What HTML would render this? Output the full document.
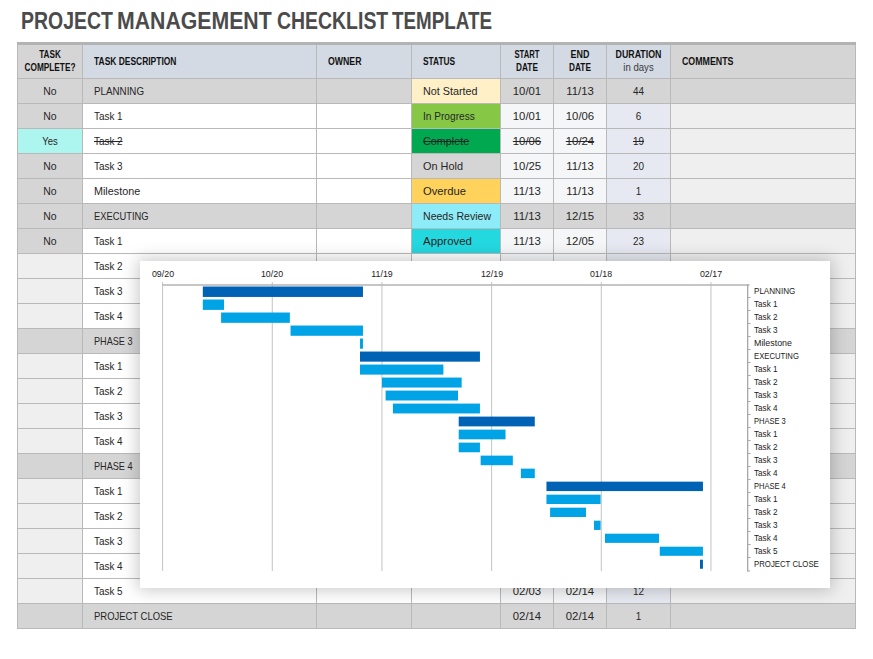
<!DOCTYPE html>
<html><head><meta charset="utf-8"><style>
html,body{margin:0;padding:0;background:#fff;}
body{width:873px;height:659px;overflow:hidden;position:relative;font-family:"Liberation Sans",sans-serif;color:#262626;}
.a{position:absolute;}
.c{position:absolute;height:24px;}
.t{position:absolute;white-space:nowrap;font-size:11px;line-height:12px;transform:scaleX(0.87);transform-origin:0 0;}
.tc{transform-origin:50% 0;}
.h{position:absolute;white-space:nowrap;font-size:10.2px;line-height:12px;font-weight:bold;color:#111;transform:scaleX(0.91);transform-origin:0 0;}
.hc{transform-origin:50% 0;}
.s{text-decoration:line-through;}
.ln{position:absolute;background:#b9b9b9;}
.g{position:absolute;background:#c4c4c4;}
.bd{position:absolute;background:#0062b4;height:9.8px;}
.bl{position:absolute;background:#00a3e6;height:9.8px;}
.lb{position:absolute;white-space:nowrap;font-size:8.8px;line-height:10px;color:#222;transform:scaleX(0.92);transform-origin:0 0;}
.dl{position:absolute;white-space:nowrap;font-size:9.2px;line-height:10px;color:#222;width:40px;text-align:center;}
</style></head><body>

<div class="a" style="left:21.2px;top:6.7px;font-size:23px;line-height:28px;font-weight:bold;color:#4b4b4b;white-space:nowrap;transform-origin:0 0;transform:scaleX(0.846);">PROJECT</div>
<div class="a" style="left:117.2px;top:6.7px;font-size:23px;line-height:28px;font-weight:bold;color:#4b4b4b;white-space:nowrap;transform-origin:0 0;transform:scaleX(0.924);">MANAGEMENT</div>
<div class="a" style="left:276.5px;top:6.7px;font-size:23px;line-height:28px;font-weight:bold;color:#4b4b4b;white-space:nowrap;transform-origin:0 0;transform:scaleX(0.845);">CHECKLIST</div>
<div class="a" style="left:391.8px;top:6.7px;font-size:23px;line-height:28px;font-weight:bold;color:#4b4b4b;white-space:nowrap;transform-origin:0 0;transform:scaleX(0.818);">TEMPLATE</div>
<div class="a" style="left:18px;top:45px;width:64px;height:33px;background:#d5d5d5"></div>
<div class="a" style="left:83px;top:45px;width:233px;height:33px;background:#d3dae4"></div>
<div class="a" style="left:317px;top:45px;width:94px;height:33px;background:#d3dae4"></div>
<div class="a" style="left:412px;top:45px;width:88px;height:33px;background:#d3dae4"></div>
<div class="a" style="left:501px;top:45px;width:52px;height:33px;background:#d3dae4"></div>
<div class="a" style="left:554px;top:45px;width:52px;height:33px;background:#d3dae4"></div>
<div class="a" style="left:607px;top:45px;width:63px;height:33px;background:#d3dae4"></div>
<div class="a" style="left:671px;top:45px;width:184px;height:33px;background:#d5d5d5"></div>
<div class="c" style="left:18px;top:79px;width:64px;background:#d5d5d5"></div>
<div class="c" style="left:83px;top:79px;width:233px;background:#d5d5d5"></div>
<div class="c" style="left:317px;top:79px;width:94px;background:#d5d5d5"></div>
<div class="c" style="left:412px;top:79px;width:88px;background:#fff0c8"></div>
<div class="c" style="left:501px;top:79px;width:52px;background:#d5d5d5"></div>
<div class="c" style="left:554px;top:79px;width:52px;background:#d5d5d5"></div>
<div class="c" style="left:607px;top:79px;width:63px;background:#d5d5d5"></div>
<div class="c" style="left:671px;top:79px;width:184px;background:#d5d5d5"></div>
<div class="c" style="left:18px;top:104px;width:64px;background:#d5d5d5"></div>
<div class="c" style="left:83px;top:104px;width:233px;background:#ffffff"></div>
<div class="c" style="left:317px;top:104px;width:94px;background:#ffffff"></div>
<div class="c" style="left:412px;top:104px;width:88px;background:#86c846"></div>
<div class="c" style="left:501px;top:104px;width:52px;background:#f5f6f8"></div>
<div class="c" style="left:554px;top:104px;width:52px;background:#f5f6f8"></div>
<div class="c" style="left:607px;top:104px;width:63px;background:#e6e9f1"></div>
<div class="c" style="left:671px;top:104px;width:184px;background:#efefef"></div>
<div class="c" style="left:18px;top:129px;width:64px;background:#adf5ef"></div>
<div class="c" style="left:83px;top:129px;width:233px;background:#ffffff"></div>
<div class="c" style="left:317px;top:129px;width:94px;background:#ffffff"></div>
<div class="c" style="left:412px;top:129px;width:88px;background:#00a84f"></div>
<div class="c" style="left:501px;top:129px;width:52px;background:#f5f6f8"></div>
<div class="c" style="left:554px;top:129px;width:52px;background:#f5f6f8"></div>
<div class="c" style="left:607px;top:129px;width:63px;background:#e6e9f1"></div>
<div class="c" style="left:671px;top:129px;width:184px;background:#efefef"></div>
<div class="c" style="left:18px;top:154px;width:64px;background:#d5d5d5"></div>
<div class="c" style="left:83px;top:154px;width:233px;background:#ffffff"></div>
<div class="c" style="left:317px;top:154px;width:94px;background:#ffffff"></div>
<div class="c" style="left:412px;top:154px;width:88px;background:#d5d5d5"></div>
<div class="c" style="left:501px;top:154px;width:52px;background:#f5f6f8"></div>
<div class="c" style="left:554px;top:154px;width:52px;background:#f5f6f8"></div>
<div class="c" style="left:607px;top:154px;width:63px;background:#e6e9f1"></div>
<div class="c" style="left:671px;top:154px;width:184px;background:#efefef"></div>
<div class="c" style="left:18px;top:179px;width:64px;background:#d5d5d5"></div>
<div class="c" style="left:83px;top:179px;width:233px;background:#ffffff"></div>
<div class="c" style="left:317px;top:179px;width:94px;background:#ffffff"></div>
<div class="c" style="left:412px;top:179px;width:88px;background:#ffd25c"></div>
<div class="c" style="left:501px;top:179px;width:52px;background:#f5f6f8"></div>
<div class="c" style="left:554px;top:179px;width:52px;background:#f5f6f8"></div>
<div class="c" style="left:607px;top:179px;width:63px;background:#e6e9f1"></div>
<div class="c" style="left:671px;top:179px;width:184px;background:#efefef"></div>
<div class="c" style="left:18px;top:204px;width:64px;background:#d5d5d5"></div>
<div class="c" style="left:83px;top:204px;width:233px;background:#d5d5d5"></div>
<div class="c" style="left:317px;top:204px;width:94px;background:#d5d5d5"></div>
<div class="c" style="left:412px;top:204px;width:88px;background:#8eecf8"></div>
<div class="c" style="left:501px;top:204px;width:52px;background:#d5d5d5"></div>
<div class="c" style="left:554px;top:204px;width:52px;background:#d5d5d5"></div>
<div class="c" style="left:607px;top:204px;width:63px;background:#d5d5d5"></div>
<div class="c" style="left:671px;top:204px;width:184px;background:#d5d5d5"></div>
<div class="c" style="left:18px;top:229px;width:64px;background:#d5d5d5"></div>
<div class="c" style="left:83px;top:229px;width:233px;background:#ffffff"></div>
<div class="c" style="left:317px;top:229px;width:94px;background:#ffffff"></div>
<div class="c" style="left:412px;top:229px;width:88px;background:#24d8e0"></div>
<div class="c" style="left:501px;top:229px;width:52px;background:#f5f6f8"></div>
<div class="c" style="left:554px;top:229px;width:52px;background:#f5f6f8"></div>
<div class="c" style="left:607px;top:229px;width:63px;background:#e6e9f1"></div>
<div class="c" style="left:671px;top:229px;width:184px;background:#efefef"></div>
<div class="c" style="left:18px;top:254px;width:64px;background:#efefef"></div>
<div class="c" style="left:83px;top:254px;width:233px;background:#ffffff"></div>
<div class="c" style="left:317px;top:254px;width:94px;background:#ffffff"></div>
<div class="c" style="left:412px;top:254px;width:88px;background:#ffffff"></div>
<div class="c" style="left:501px;top:254px;width:52px;background:#f5f6f8"></div>
<div class="c" style="left:554px;top:254px;width:52px;background:#f5f6f8"></div>
<div class="c" style="left:607px;top:254px;width:63px;background:#e6e9f1"></div>
<div class="c" style="left:671px;top:254px;width:184px;background:#efefef"></div>
<div class="c" style="left:18px;top:279px;width:64px;background:#efefef"></div>
<div class="c" style="left:83px;top:279px;width:233px;background:#ffffff"></div>
<div class="c" style="left:317px;top:279px;width:94px;background:#ffffff"></div>
<div class="c" style="left:412px;top:279px;width:88px;background:#ffffff"></div>
<div class="c" style="left:501px;top:279px;width:52px;background:#f5f6f8"></div>
<div class="c" style="left:554px;top:279px;width:52px;background:#f5f6f8"></div>
<div class="c" style="left:607px;top:279px;width:63px;background:#e6e9f1"></div>
<div class="c" style="left:671px;top:279px;width:184px;background:#efefef"></div>
<div class="c" style="left:18px;top:304px;width:64px;background:#efefef"></div>
<div class="c" style="left:83px;top:304px;width:233px;background:#ffffff"></div>
<div class="c" style="left:317px;top:304px;width:94px;background:#ffffff"></div>
<div class="c" style="left:412px;top:304px;width:88px;background:#ffffff"></div>
<div class="c" style="left:501px;top:304px;width:52px;background:#f5f6f8"></div>
<div class="c" style="left:554px;top:304px;width:52px;background:#f5f6f8"></div>
<div class="c" style="left:607px;top:304px;width:63px;background:#e6e9f1"></div>
<div class="c" style="left:671px;top:304px;width:184px;background:#efefef"></div>
<div class="c" style="left:18px;top:329px;width:64px;background:#d5d5d5"></div>
<div class="c" style="left:83px;top:329px;width:233px;background:#d5d5d5"></div>
<div class="c" style="left:317px;top:329px;width:94px;background:#d5d5d5"></div>
<div class="c" style="left:412px;top:329px;width:88px;background:#d5d5d5"></div>
<div class="c" style="left:501px;top:329px;width:52px;background:#d5d5d5"></div>
<div class="c" style="left:554px;top:329px;width:52px;background:#d5d5d5"></div>
<div class="c" style="left:607px;top:329px;width:63px;background:#d5d5d5"></div>
<div class="c" style="left:671px;top:329px;width:184px;background:#d5d5d5"></div>
<div class="c" style="left:18px;top:354px;width:64px;background:#efefef"></div>
<div class="c" style="left:83px;top:354px;width:233px;background:#ffffff"></div>
<div class="c" style="left:317px;top:354px;width:94px;background:#ffffff"></div>
<div class="c" style="left:412px;top:354px;width:88px;background:#ffffff"></div>
<div class="c" style="left:501px;top:354px;width:52px;background:#f5f6f8"></div>
<div class="c" style="left:554px;top:354px;width:52px;background:#f5f6f8"></div>
<div class="c" style="left:607px;top:354px;width:63px;background:#e6e9f1"></div>
<div class="c" style="left:671px;top:354px;width:184px;background:#efefef"></div>
<div class="c" style="left:18px;top:379px;width:64px;background:#efefef"></div>
<div class="c" style="left:83px;top:379px;width:233px;background:#ffffff"></div>
<div class="c" style="left:317px;top:379px;width:94px;background:#ffffff"></div>
<div class="c" style="left:412px;top:379px;width:88px;background:#ffffff"></div>
<div class="c" style="left:501px;top:379px;width:52px;background:#f5f6f8"></div>
<div class="c" style="left:554px;top:379px;width:52px;background:#f5f6f8"></div>
<div class="c" style="left:607px;top:379px;width:63px;background:#e6e9f1"></div>
<div class="c" style="left:671px;top:379px;width:184px;background:#efefef"></div>
<div class="c" style="left:18px;top:404px;width:64px;background:#efefef"></div>
<div class="c" style="left:83px;top:404px;width:233px;background:#ffffff"></div>
<div class="c" style="left:317px;top:404px;width:94px;background:#ffffff"></div>
<div class="c" style="left:412px;top:404px;width:88px;background:#ffffff"></div>
<div class="c" style="left:501px;top:404px;width:52px;background:#f5f6f8"></div>
<div class="c" style="left:554px;top:404px;width:52px;background:#f5f6f8"></div>
<div class="c" style="left:607px;top:404px;width:63px;background:#e6e9f1"></div>
<div class="c" style="left:671px;top:404px;width:184px;background:#efefef"></div>
<div class="c" style="left:18px;top:429px;width:64px;background:#efefef"></div>
<div class="c" style="left:83px;top:429px;width:233px;background:#ffffff"></div>
<div class="c" style="left:317px;top:429px;width:94px;background:#ffffff"></div>
<div class="c" style="left:412px;top:429px;width:88px;background:#ffffff"></div>
<div class="c" style="left:501px;top:429px;width:52px;background:#f5f6f8"></div>
<div class="c" style="left:554px;top:429px;width:52px;background:#f5f6f8"></div>
<div class="c" style="left:607px;top:429px;width:63px;background:#e6e9f1"></div>
<div class="c" style="left:671px;top:429px;width:184px;background:#efefef"></div>
<div class="c" style="left:18px;top:454px;width:64px;background:#d5d5d5"></div>
<div class="c" style="left:83px;top:454px;width:233px;background:#d5d5d5"></div>
<div class="c" style="left:317px;top:454px;width:94px;background:#d5d5d5"></div>
<div class="c" style="left:412px;top:454px;width:88px;background:#d5d5d5"></div>
<div class="c" style="left:501px;top:454px;width:52px;background:#d5d5d5"></div>
<div class="c" style="left:554px;top:454px;width:52px;background:#d5d5d5"></div>
<div class="c" style="left:607px;top:454px;width:63px;background:#d5d5d5"></div>
<div class="c" style="left:671px;top:454px;width:184px;background:#d5d5d5"></div>
<div class="c" style="left:18px;top:479px;width:64px;background:#efefef"></div>
<div class="c" style="left:83px;top:479px;width:233px;background:#ffffff"></div>
<div class="c" style="left:317px;top:479px;width:94px;background:#ffffff"></div>
<div class="c" style="left:412px;top:479px;width:88px;background:#ffffff"></div>
<div class="c" style="left:501px;top:479px;width:52px;background:#f5f6f8"></div>
<div class="c" style="left:554px;top:479px;width:52px;background:#f5f6f8"></div>
<div class="c" style="left:607px;top:479px;width:63px;background:#e6e9f1"></div>
<div class="c" style="left:671px;top:479px;width:184px;background:#efefef"></div>
<div class="c" style="left:18px;top:504px;width:64px;background:#efefef"></div>
<div class="c" style="left:83px;top:504px;width:233px;background:#ffffff"></div>
<div class="c" style="left:317px;top:504px;width:94px;background:#ffffff"></div>
<div class="c" style="left:412px;top:504px;width:88px;background:#ffffff"></div>
<div class="c" style="left:501px;top:504px;width:52px;background:#f5f6f8"></div>
<div class="c" style="left:554px;top:504px;width:52px;background:#f5f6f8"></div>
<div class="c" style="left:607px;top:504px;width:63px;background:#e6e9f1"></div>
<div class="c" style="left:671px;top:504px;width:184px;background:#efefef"></div>
<div class="c" style="left:18px;top:529px;width:64px;background:#efefef"></div>
<div class="c" style="left:83px;top:529px;width:233px;background:#ffffff"></div>
<div class="c" style="left:317px;top:529px;width:94px;background:#ffffff"></div>
<div class="c" style="left:412px;top:529px;width:88px;background:#ffffff"></div>
<div class="c" style="left:501px;top:529px;width:52px;background:#f5f6f8"></div>
<div class="c" style="left:554px;top:529px;width:52px;background:#f5f6f8"></div>
<div class="c" style="left:607px;top:529px;width:63px;background:#e6e9f1"></div>
<div class="c" style="left:671px;top:529px;width:184px;background:#efefef"></div>
<div class="c" style="left:18px;top:554px;width:64px;background:#efefef"></div>
<div class="c" style="left:83px;top:554px;width:233px;background:#ffffff"></div>
<div class="c" style="left:317px;top:554px;width:94px;background:#ffffff"></div>
<div class="c" style="left:412px;top:554px;width:88px;background:#ffffff"></div>
<div class="c" style="left:501px;top:554px;width:52px;background:#f5f6f8"></div>
<div class="c" style="left:554px;top:554px;width:52px;background:#f5f6f8"></div>
<div class="c" style="left:607px;top:554px;width:63px;background:#e6e9f1"></div>
<div class="c" style="left:671px;top:554px;width:184px;background:#efefef"></div>
<div class="c" style="left:18px;top:579px;width:64px;background:#efefef"></div>
<div class="c" style="left:83px;top:579px;width:233px;background:#ffffff"></div>
<div class="c" style="left:317px;top:579px;width:94px;background:#ffffff"></div>
<div class="c" style="left:412px;top:579px;width:88px;background:#ffffff"></div>
<div class="c" style="left:501px;top:579px;width:52px;background:#f5f6f8"></div>
<div class="c" style="left:554px;top:579px;width:52px;background:#f5f6f8"></div>
<div class="c" style="left:607px;top:579px;width:63px;background:#e6e9f1"></div>
<div class="c" style="left:671px;top:579px;width:184px;background:#efefef"></div>
<div class="c" style="left:18px;top:604px;width:64px;background:#d5d5d5"></div>
<div class="c" style="left:83px;top:604px;width:233px;background:#d5d5d5"></div>
<div class="c" style="left:317px;top:604px;width:94px;background:#d5d5d5"></div>
<div class="c" style="left:412px;top:604px;width:88px;background:#d5d5d5"></div>
<div class="c" style="left:501px;top:604px;width:52px;background:#d5d5d5"></div>
<div class="c" style="left:554px;top:604px;width:52px;background:#d5d5d5"></div>
<div class="c" style="left:607px;top:604px;width:63px;background:#d5d5d5"></div>
<div class="c" style="left:671px;top:604px;width:184px;background:#d5d5d5"></div>
<div class="ln" style="left:17px;top:42px;width:839px;height:3px;background:#b3b3b3"></div>
<div class="ln" style="left:17px;top:78px;width:839px;height:1px"></div>
<div class="ln" style="left:17px;top:103px;width:839px;height:1px"></div>
<div class="ln" style="left:17px;top:128px;width:839px;height:1px"></div>
<div class="ln" style="left:17px;top:153px;width:839px;height:1px"></div>
<div class="ln" style="left:17px;top:178px;width:839px;height:1px"></div>
<div class="ln" style="left:17px;top:203px;width:839px;height:1px"></div>
<div class="ln" style="left:17px;top:228px;width:839px;height:1px"></div>
<div class="ln" style="left:17px;top:253px;width:839px;height:1px"></div>
<div class="ln" style="left:17px;top:278px;width:839px;height:1px"></div>
<div class="ln" style="left:17px;top:303px;width:839px;height:1px"></div>
<div class="ln" style="left:17px;top:328px;width:839px;height:1px"></div>
<div class="ln" style="left:17px;top:353px;width:839px;height:1px"></div>
<div class="ln" style="left:17px;top:378px;width:839px;height:1px"></div>
<div class="ln" style="left:17px;top:403px;width:839px;height:1px"></div>
<div class="ln" style="left:17px;top:428px;width:839px;height:1px"></div>
<div class="ln" style="left:17px;top:453px;width:839px;height:1px"></div>
<div class="ln" style="left:17px;top:478px;width:839px;height:1px"></div>
<div class="ln" style="left:17px;top:503px;width:839px;height:1px"></div>
<div class="ln" style="left:17px;top:528px;width:839px;height:1px"></div>
<div class="ln" style="left:17px;top:553px;width:839px;height:1px"></div>
<div class="ln" style="left:17px;top:578px;width:839px;height:1px"></div>
<div class="ln" style="left:17px;top:603px;width:839px;height:1px"></div>
<div class="ln" style="left:17px;top:628px;width:839px;height:1px"></div>
<div class="ln" style="left:17px;top:45px;width:1px;height:584px"></div>
<div class="ln" style="left:82px;top:45px;width:1px;height:584px"></div>
<div class="ln" style="left:316px;top:45px;width:1px;height:584px"></div>
<div class="ln" style="left:411px;top:45px;width:1px;height:584px"></div>
<div class="ln" style="left:500px;top:45px;width:1px;height:584px"></div>
<div class="ln" style="left:553px;top:45px;width:1px;height:584px"></div>
<div class="ln" style="left:606px;top:45px;width:1px;height:584px"></div>
<div class="ln" style="left:670px;top:45px;width:1px;height:584px"></div>
<div class="ln" style="left:855px;top:45px;width:1px;height:584px"></div>
<div class="ln" style="left:17px;top:42px;width:839px;height:3px;background:#b3b3b3"></div>
<div class="h hc" style="left:18px;top:49.0px;width:64px;text-align:center;transform:scaleX(0.801);">TASK</div>
<div class="h hc" style="left:18px;top:61.5px;width:64px;text-align:center;transform:scaleX(0.81);">COMPLETE?</div>
<div class="h" style="left:94px;top:55.5px;transform:scaleX(0.829);">TASK DESCRIPTION</div>
<div class="h" style="left:328px;top:55.5px;transform:scaleX(0.857);">OWNER</div>
<div class="h" style="left:423px;top:55.5px;transform:scaleX(0.819);">STATUS</div>
<div class="h hc" style="left:501px;top:49.0px;width:52px;text-align:center;transform:scaleX(0.754);">START</div>
<div class="h hc" style="left:501px;top:61.5px;width:52px;text-align:center;transform:scaleX(0.81);">DATE</div>
<div class="h hc" style="left:554px;top:49.0px;width:52px;text-align:center;transform:scaleX(0.875);">END</div>
<div class="h hc" style="left:554px;top:61.5px;width:52px;text-align:center;transform:scaleX(0.81);">DATE</div>
<div class="h hc" style="left:607px;top:49.0px;width:63px;text-align:center;transform:scaleX(0.866);">DURATION</div>
<div class="h hc" style="left:607px;top:61.5px;width:63px;text-align:center;transform:scaleX(0.94);font-weight:normal;color:#3a3a3a;">in days</div>
<div class="h" style="left:682px;top:55.5px;transform:scaleX(0.866);">COMMENTS</div>
<div class="t tc" style="left:18px;top:85px;width:64px;text-align:center;transform:scaleX(0.95);">No</div>
<div class="t" style="left:94px;top:85px;transform:scaleX(0.89);">PLANNING</div>
<div class="t" style="left:423px;top:85px;transform:scaleX(0.98);">Not Started</div>
<div class="t tc" style="left:501px;top:85px;width:52px;text-align:center;transform:scaleX(1.03);">10/01</div>
<div class="t tc" style="left:554px;top:85px;width:52px;text-align:center;transform:scaleX(1.03);">11/13</div>
<div class="t tc" style="left:607px;top:85px;width:63px;text-align:center;transform:scaleX(0.9);">44</div>
<div class="t tc" style="left:18px;top:110px;width:64px;text-align:center;transform:scaleX(0.95);">No</div>
<div class="t" style="left:94px;top:110px;transform:scaleX(0.9);">Task 1</div>
<div class="t" style="left:423px;top:110px;transform:scaleX(0.92);">In Progress</div>
<div class="t tc" style="left:501px;top:110px;width:52px;text-align:center;transform:scaleX(1.03);">10/01</div>
<div class="t tc" style="left:554px;top:110px;width:52px;text-align:center;transform:scaleX(1.03);">10/06</div>
<div class="t tc" style="left:607px;top:110px;width:63px;text-align:center;transform:scaleX(0.9);">6</div>
<div class="t tc" style="left:18px;top:135px;width:64px;text-align:center;transform:scaleX(0.86);">Yes</div>
<div class="t s" style="left:94px;top:135px;transform:scaleX(0.9);">Task 2</div>
<div class="t s" style="left:423px;top:135px;transform:scaleX(0.98);">Complete</div>
<div class="t s tc" style="left:501px;top:135px;width:52px;text-align:center;transform:scaleX(1.03);">10/06</div>
<div class="t s tc" style="left:554px;top:135px;width:52px;text-align:center;transform:scaleX(1.03);">10/24</div>
<div class="t s tc" style="left:607px;top:135px;width:63px;text-align:center;transform:scaleX(0.9);">19</div>
<div class="t tc" style="left:18px;top:160px;width:64px;text-align:center;transform:scaleX(0.95);">No</div>
<div class="t" style="left:94px;top:160px;transform:scaleX(0.9);">Task 3</div>
<div class="t" style="left:423px;top:160px;transform:scaleX(0.99);">On Hold</div>
<div class="t tc" style="left:501px;top:160px;width:52px;text-align:center;transform:scaleX(1.03);">10/25</div>
<div class="t tc" style="left:554px;top:160px;width:52px;text-align:center;transform:scaleX(1.03);">11/13</div>
<div class="t tc" style="left:607px;top:160px;width:63px;text-align:center;transform:scaleX(0.9);">20</div>
<div class="t tc" style="left:18px;top:185px;width:64px;text-align:center;transform:scaleX(0.95);">No</div>
<div class="t" style="left:94px;top:185px;transform:scaleX(0.98);">Milestone</div>
<div class="t" style="left:423px;top:185px;transform:scaleX(1.02);">Overdue</div>
<div class="t tc" style="left:501px;top:185px;width:52px;text-align:center;transform:scaleX(1.03);">11/13</div>
<div class="t tc" style="left:554px;top:185px;width:52px;text-align:center;transform:scaleX(1.03);">11/13</div>
<div class="t tc" style="left:607px;top:185px;width:63px;text-align:center;transform:scaleX(0.9);">1</div>
<div class="t tc" style="left:18px;top:210px;width:64px;text-align:center;transform:scaleX(0.95);">No</div>
<div class="t" style="left:94px;top:210px;transform:scaleX(0.85);">EXECUTING</div>
<div class="t" style="left:423px;top:210px;transform:scaleX(0.96);">Needs Review</div>
<div class="t tc" style="left:501px;top:210px;width:52px;text-align:center;transform:scaleX(1.03);">11/13</div>
<div class="t tc" style="left:554px;top:210px;width:52px;text-align:center;transform:scaleX(1.03);">12/15</div>
<div class="t tc" style="left:607px;top:210px;width:63px;text-align:center;transform:scaleX(0.9);">33</div>
<div class="t tc" style="left:18px;top:235px;width:64px;text-align:center;transform:scaleX(0.95);">No</div>
<div class="t" style="left:94px;top:235px;transform:scaleX(0.9);">Task 1</div>
<div class="t" style="left:423px;top:235px;transform:scaleX(1.04);">Approved</div>
<div class="t tc" style="left:501px;top:235px;width:52px;text-align:center;transform:scaleX(1.03);">11/13</div>
<div class="t tc" style="left:554px;top:235px;width:52px;text-align:center;transform:scaleX(1.03);">12/05</div>
<div class="t tc" style="left:607px;top:235px;width:63px;text-align:center;transform:scaleX(0.9);">23</div>
<div class="t" style="left:94px;top:260px;transform:scaleX(0.9);">Task 2</div>
<div class="t" style="left:94px;top:285px;transform:scaleX(0.9);">Task 3</div>
<div class="t" style="left:94px;top:310px;transform:scaleX(0.9);">Task 4</div>
<div class="t" style="left:94px;top:335px;transform:scaleX(0.83);">PHASE 3</div>
<div class="t" style="left:94px;top:360px;transform:scaleX(0.9);">Task 1</div>
<div class="t" style="left:94px;top:385px;transform:scaleX(0.9);">Task 2</div>
<div class="t" style="left:94px;top:410px;transform:scaleX(0.9);">Task 3</div>
<div class="t" style="left:94px;top:435px;transform:scaleX(0.9);">Task 4</div>
<div class="t" style="left:94px;top:460px;transform:scaleX(0.83);">PHASE 4</div>
<div class="t" style="left:94px;top:485px;transform:scaleX(0.9);">Task 1</div>
<div class="t" style="left:94px;top:510px;transform:scaleX(0.9);">Task 2</div>
<div class="t" style="left:94px;top:535px;transform:scaleX(0.9);">Task 3</div>
<div class="t" style="left:94px;top:560px;transform:scaleX(0.9);">Task 4</div>
<div class="t" style="left:94px;top:585px;transform:scaleX(0.9);">Task 5</div>
<div class="t tc" style="left:501px;top:585px;width:52px;text-align:center;transform:scaleX(1.03);">02/03</div>
<div class="t tc" style="left:554px;top:585px;width:52px;text-align:center;transform:scaleX(1.03);">02/14</div>
<div class="t tc" style="left:607px;top:585px;width:63px;text-align:center;transform:scaleX(0.9);">12</div>
<div class="t" style="left:94px;top:610px;transform:scaleX(0.86);">PROJECT CLOSE</div>
<div class="t tc" style="left:501px;top:610px;width:52px;text-align:center;transform:scaleX(1.03);">02/14</div>
<div class="t tc" style="left:554px;top:610px;width:52px;text-align:center;transform:scaleX(1.03);">02/14</div>
<div class="t tc" style="left:607px;top:610px;width:63px;text-align:center;transform:scaleX(0.9);">1</div>
<div class="a" style="left:140px;top:261px;width:690px;height:327px;background:#fff;box-shadow:0 0 16px 2px rgba(0,0,0,0.22);"></div>
<svg class="a" style="left:0;top:0" width="873" height="659" viewBox="0 0 873 659"><rect x="162.10" y="282" width="1" height="289" fill="#c4c4c4"/><rect x="271.77" y="282" width="1" height="289" fill="#c4c4c4"/><rect x="381.44" y="282" width="1" height="289" fill="#c4c4c4"/><rect x="491.11" y="282" width="1" height="289" fill="#c4c4c4"/><rect x="600.78" y="282" width="1" height="289" fill="#c4c4c4"/><rect x="710.45" y="282" width="1" height="289" fill="#c4c4c4"/><rect x="162.10" y="284.2" width="587.40" height="1.6" fill="#b9b9b9"/><rect x="747.10" y="284.50" width="1.2" height="287.00" fill="#a0a0a0"/><rect x="748.10" y="297.00" width="2.5" height="1" fill="#a8a8a8"/><rect x="748.10" y="310.00" width="2.5" height="1" fill="#a8a8a8"/><rect x="748.10" y="323.00" width="2.5" height="1" fill="#a8a8a8"/><rect x="748.10" y="336.00" width="2.5" height="1" fill="#a8a8a8"/><rect x="748.10" y="349.00" width="2.5" height="1" fill="#a8a8a8"/><rect x="748.10" y="362.00" width="2.5" height="1" fill="#a8a8a8"/><rect x="748.10" y="375.00" width="2.5" height="1" fill="#a8a8a8"/><rect x="748.10" y="388.00" width="2.5" height="1" fill="#a8a8a8"/><rect x="748.10" y="401.00" width="2.5" height="1" fill="#a8a8a8"/><rect x="748.10" y="414.00" width="2.5" height="1" fill="#a8a8a8"/><rect x="748.10" y="427.00" width="2.5" height="1" fill="#a8a8a8"/><rect x="748.10" y="440.00" width="2.5" height="1" fill="#a8a8a8"/><rect x="748.10" y="453.00" width="2.5" height="1" fill="#a8a8a8"/><rect x="748.10" y="466.00" width="2.5" height="1" fill="#a8a8a8"/><rect x="748.10" y="479.00" width="2.5" height="1" fill="#a8a8a8"/><rect x="748.10" y="492.00" width="2.5" height="1" fill="#a8a8a8"/><rect x="748.10" y="505.00" width="2.5" height="1" fill="#a8a8a8"/><rect x="748.10" y="518.00" width="2.5" height="1" fill="#a8a8a8"/><rect x="748.10" y="531.00" width="2.5" height="1" fill="#a8a8a8"/><rect x="748.10" y="544.00" width="2.5" height="1" fill="#a8a8a8"/><rect x="748.10" y="557.00" width="2.5" height="1" fill="#a8a8a8"/><rect x="747.60" y="570.5" width="2.5" height="1" fill="#a8a8a8"/><rect x="202.81" y="286.50" width="160.15" height="10.45" fill="#0062b4"/><rect x="202.81" y="299.51" width="21.23" height="10.38" fill="#00a3e6"/><rect x="221.09" y="312.52" width="68.76" height="10.32" fill="#00a3e6"/><rect x="290.55" y="325.53" width="72.41" height="10.25" fill="#00a3e6"/><rect x="360.01" y="338.54" width="2.96" height="10.18" fill="#00a3e6"/><rect x="360.01" y="351.55" width="119.94" height="10.11" fill="#0062b4"/><rect x="360.01" y="364.56" width="83.38" height="10.05" fill="#00a3e6"/><rect x="381.94" y="377.57" width="79.72" height="9.98" fill="#00a3e6"/><rect x="385.60" y="390.58" width="72.41" height="9.91" fill="#00a3e6"/><rect x="392.91" y="403.59" width="87.04" height="9.85" fill="#00a3e6"/><rect x="458.71" y="416.60" width="76.07" height="9.78" fill="#0062b4"/><rect x="458.71" y="429.61" width="46.82" height="9.71" fill="#00a3e6"/><rect x="458.71" y="442.62" width="21.23" height="9.65" fill="#00a3e6"/><rect x="480.64" y="455.63" width="32.20" height="9.58" fill="#00a3e6"/><rect x="520.86" y="468.64" width="13.92" height="9.51" fill="#00a3e6"/><rect x="546.45" y="481.65" width="156.49" height="9.44" fill="#0062b4"/><rect x="546.45" y="494.66" width="54.13" height="9.38" fill="#00a3e6"/><rect x="550.10" y="507.67" width="35.86" height="9.31" fill="#00a3e6"/><rect x="593.97" y="520.68" width="6.61" height="9.24" fill="#00a3e6"/><rect x="604.94" y="533.69" width="54.13" height="9.18" fill="#00a3e6"/><rect x="659.77" y="546.70" width="43.17" height="9.11" fill="#00a3e6"/><rect x="699.98" y="559.71" width="2.96" height="9.04" fill="#0062b4"/></svg>
<div class="dl" style="left:142.60px;top:269.3px;transform:scaleX(0.96)">09/20</div>
<div class="dl" style="left:252.27px;top:269.3px;transform:scaleX(0.96)">10/20</div>
<div class="dl" style="left:361.94px;top:269.3px;transform:scaleX(0.96)">11/19</div>
<div class="dl" style="left:471.61px;top:269.3px;transform:scaleX(0.96)">12/19</div>
<div class="dl" style="left:581.28px;top:269.3px;transform:scaleX(0.96)">01/18</div>
<div class="dl" style="left:690.95px;top:269.3px;transform:scaleX(0.96)">02/17</div>
<div class="lb" style="left:754.3px;top:285.80px;transform:scaleX(0.917)">PLANNING</div>
<div class="lb" style="left:754.3px;top:298.80px;transform:scaleX(0.927)">Task 1</div>
<div class="lb" style="left:754.3px;top:311.80px;transform:scaleX(0.927)">Task 2</div>
<div class="lb" style="left:754.3px;top:324.80px;transform:scaleX(0.927)">Task 3</div>
<div class="lb" style="left:754.3px;top:337.80px;transform:scaleX(1.009)">Milestone</div>
<div class="lb" style="left:754.3px;top:350.80px;transform:scaleX(0.875)">EXECUTING</div>
<div class="lb" style="left:754.3px;top:363.80px;transform:scaleX(0.927)">Task 1</div>
<div class="lb" style="left:754.3px;top:376.80px;transform:scaleX(0.927)">Task 2</div>
<div class="lb" style="left:754.3px;top:389.80px;transform:scaleX(0.927)">Task 3</div>
<div class="lb" style="left:754.3px;top:402.80px;transform:scaleX(0.927)">Task 4</div>
<div class="lb" style="left:754.3px;top:415.80px;transform:scaleX(0.855)">PHASE 3</div>
<div class="lb" style="left:754.3px;top:428.80px;transform:scaleX(0.927)">Task 1</div>
<div class="lb" style="left:754.3px;top:441.80px;transform:scaleX(0.927)">Task 2</div>
<div class="lb" style="left:754.3px;top:454.80px;transform:scaleX(0.927)">Task 3</div>
<div class="lb" style="left:754.3px;top:467.80px;transform:scaleX(0.927)">Task 4</div>
<div class="lb" style="left:754.3px;top:480.80px;transform:scaleX(0.855)">PHASE 4</div>
<div class="lb" style="left:754.3px;top:493.80px;transform:scaleX(0.927)">Task 1</div>
<div class="lb" style="left:754.3px;top:506.80px;transform:scaleX(0.927)">Task 2</div>
<div class="lb" style="left:754.3px;top:519.80px;transform:scaleX(0.927)">Task 3</div>
<div class="lb" style="left:754.3px;top:532.80px;transform:scaleX(0.927)">Task 4</div>
<div class="lb" style="left:754.3px;top:545.80px;transform:scaleX(0.927)">Task 5</div>
<div class="lb" style="left:754.3px;top:558.80px;transform:scaleX(0.886)">PROJECT CLOSE</div>
</body></html>
